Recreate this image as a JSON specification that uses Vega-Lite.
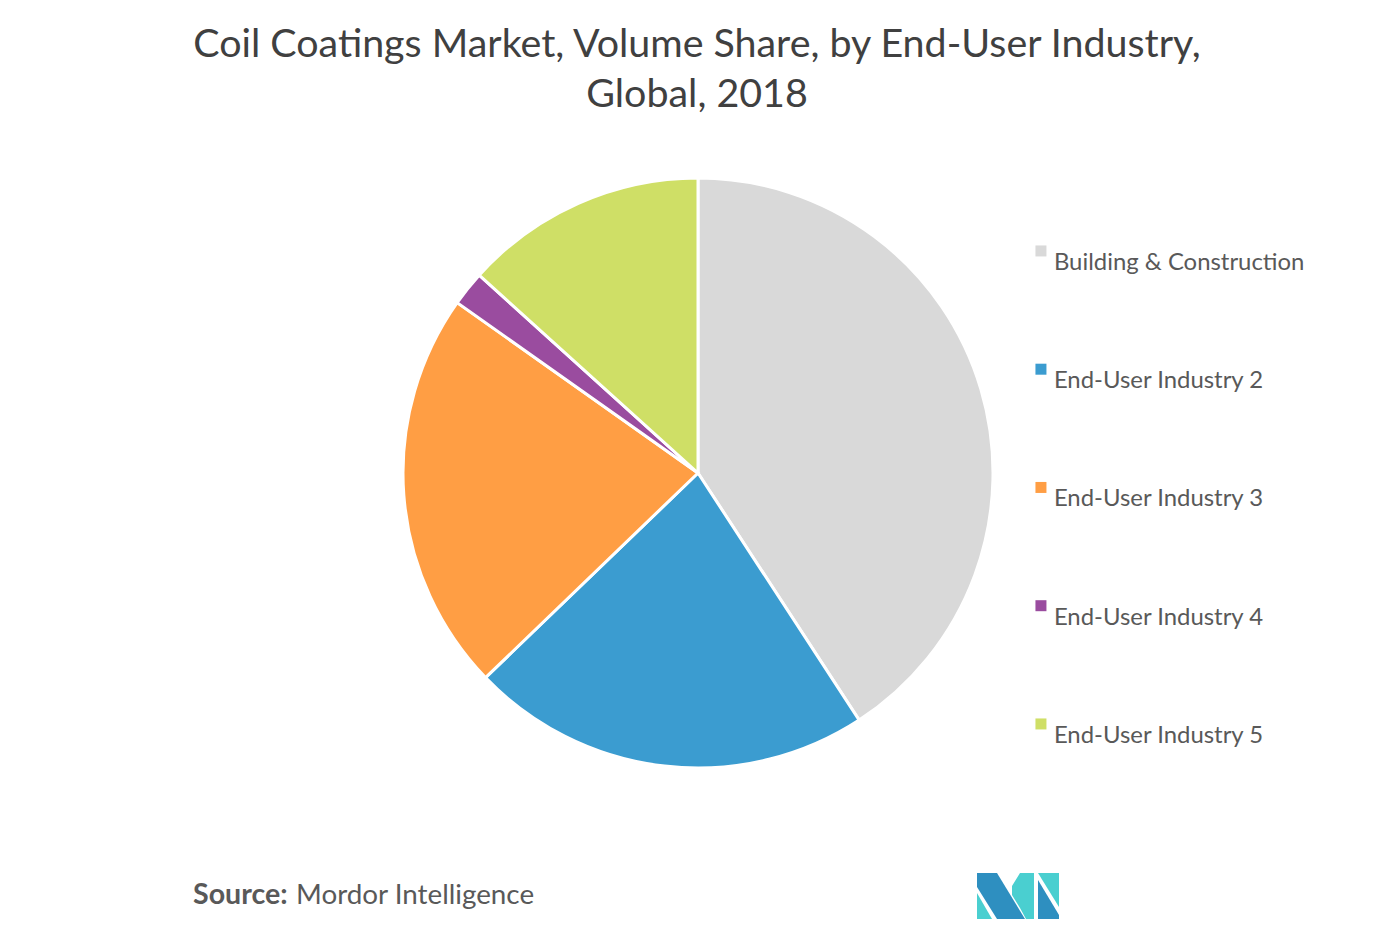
{
  "$schema": "https://vega.github.io/schema/vega-lite/v6.json",
  "description": "Coil coatings market, volume share by end-user industry, global, 2018",
  "width": 1396,
  "height": 930,
  "padding": 0,
  "autosize": "none",
  "background": "white",
  "title": {
    "text": ["Coil Coatings Market, Volume Share, by End-User Industry,", "Global, 2018"],
    "font": "Lato",
    "fontSize": 39.4,
    "fontWeight": "normal",
    "color": "#404040",
    "lineHeight": 50,
    "anchor": "middle",
    "dx": -1,
    "offset": -115
  },
  "config": {"view": {"stroke": null}},
  "layer": [
    {
      "data": {
        "values": [
          {"industry": "Building & Construction", "rank": 1, "share": 40.8},
          {"industry": "End-User Industry 2", "rank": 2, "share": 22.0},
          {"industry": "End-User Industry 3", "rank": 3, "share": 22.0},
          {"industry": "End-User Industry 4", "rank": 4, "share": 1.9},
          {"industry": "End-User Industry 5", "rank": 5, "share": 13.3}
        ]
      },
      "mark": {"type": "arc", "outerRadius": 295, "stroke": "white", "strokeWidth": 3},
      "encoding": {
        "x": {"datum": 698, "type": "quantitative", "scale": {"domain": [0, 1396]}, "axis": null},
        "y": {"datum": 473, "type": "quantitative", "scale": {"domain": [930, 0]}, "axis": null},
        "theta": {"field": "share", "type": "quantitative", "stack": true},
        "order": {"field": "rank"},
        "color": {
          "field": "industry",
          "type": "nominal",
          "scale": {
            "domain": ["Building & Construction", "End-User Industry 2", "End-User Industry 3", "End-User Industry 4", "End-User Industry 5"],
            "range": ["#D9D9D9", "#3B9CD0", "#FF9E44", "#9A4C9F", "#CFDF66"]
          },
          "legend": {
            "title": null,
            "orient": "none",
            "legendX": 1029,
            "legendY": 239,
            "padding": 0,
            "symbolType": "square",
            "symbolSize": 121,
            "symbolStrokeWidth": 0,
            "labelFont": "Lato",
            "labelFontSize": 23.9,
            "labelColor": "#595959",
            "labelBaseline": "top",
            "labelOffset": 1,
            "labelLimit": 400,
            "rowPadding": 82.25
          }
        }
      }
    },
    {
      "data": {
        "values": [
          {"piece": "a", "shade": "dark", "px": 977, "top": 873, "bottom": 887},
          {"piece": "a", "shade": "dark", "px": 997, "top": 873, "bottom": 919},
          {"piece": "a", "shade": "dark", "px": 1025, "top": 919, "bottom": 919},
          {"piece": "b", "shade": "teal", "px": 977, "top": 893, "bottom": 919},
          {"piece": "b", "shade": "teal", "px": 992, "top": 919, "bottom": 919},
          {"piece": "c", "shade": "teal", "px": 1012, "top": 886, "bottom": 895},
          {"piece": "c", "shade": "teal", "px": 1020, "top": 873, "bottom": 908},
          {"piece": "c", "shade": "teal", "px": 1026, "top": 873, "bottom": 919},
          {"piece": "c", "shade": "teal", "px": 1034, "top": 873, "bottom": 919},
          {"piece": "d", "shade": "teal", "px": 1038, "top": 873, "bottom": 873},
          {"piece": "d", "shade": "teal", "px": 1059, "top": 873, "bottom": 907},
          {"piece": "e", "shade": "dark", "px": 1038, "top": 880, "bottom": 919},
          {"piece": "e", "shade": "dark", "px": 1059, "top": 915, "bottom": 919}
        ]
      },
      "mark": {"type": "area", "interpolate": "linear", "orient": "vertical"},
      "encoding": {
        "x": {"field": "px", "type": "quantitative", "scale": {"domain": [0, 1396]}, "axis": null},
        "y": {"field": "top", "type": "quantitative", "scale": {"domain": [930, 0]}, "axis": null, "stack": null},
        "y2": {"field": "bottom"},
        "detail": {"field": "piece"},
        "fill": {
          "field": "shade",
          "type": "nominal",
          "scale": {"domain": ["dark", "teal"], "range": ["#2E8FC0", "#4ACFD0"]},
          "legend": null
        }
      }
    },
    {
      "data": {"values": [{"text": "Source:"}]},
      "mark": {"type": "text", "font": "Lato", "fontSize": 28.6, "fontWeight": "bold", "color": "#595959", "align": "left", "baseline": "alphabetic"},
      "encoding": {
        "text": {"field": "text"},
        "x": {"datum": 193, "type": "quantitative", "scale": {"domain": [0, 1396]}, "axis": null},
        "y": {"datum": 904, "type": "quantitative", "scale": {"domain": [930, 0]}, "axis": null}
      }
    },
    {
      "data": {"values": [{"text": "Mordor Intelligence"}]},
      "mark": {"type": "text", "font": "Lato", "fontSize": 27.8, "fontWeight": "normal", "color": "#595959", "align": "left", "baseline": "alphabetic"},
      "encoding": {
        "text": {"field": "text"},
        "x": {"datum": 296, "type": "quantitative", "scale": {"domain": [0, 1396]}, "axis": null},
        "y": {"datum": 904, "type": "quantitative", "scale": {"domain": [930, 0]}, "axis": null}
      }
    }
  ]
}
